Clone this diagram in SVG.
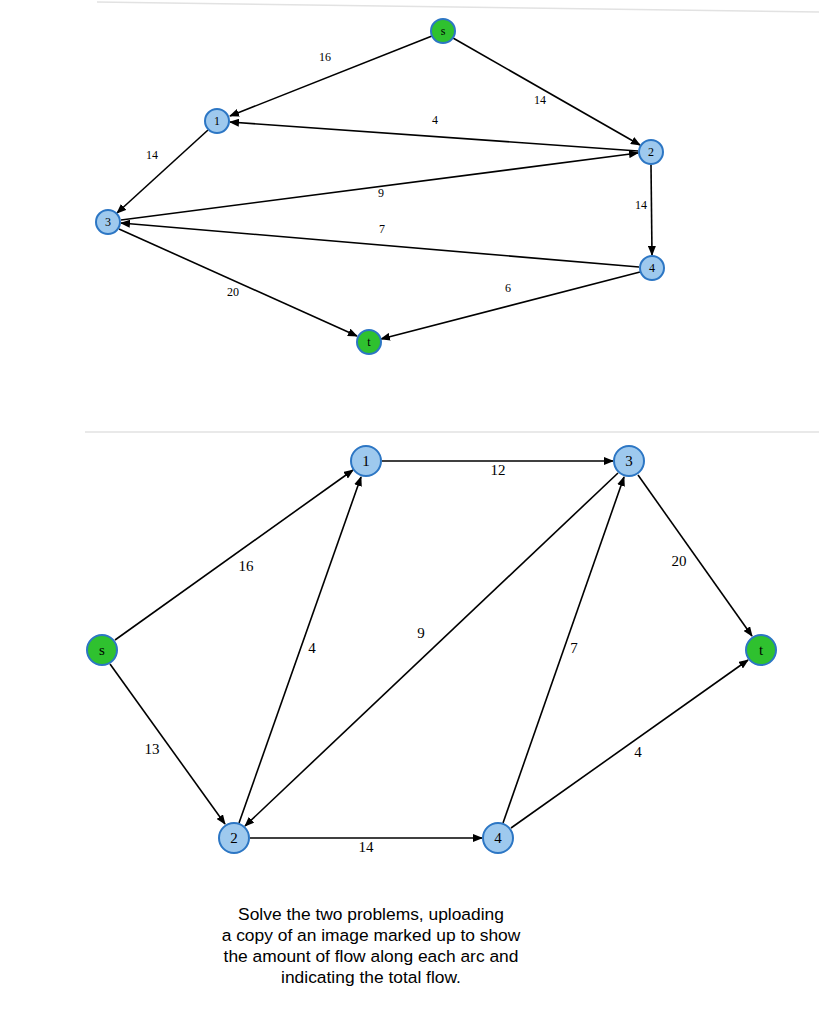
<svg xmlns="http://www.w3.org/2000/svg" width="819" height="1024" viewBox="0 0 819 1024">
<style>
.n{fill:#9ec9ee;stroke:#2c76c4;stroke-width:2}
.g{fill:#2fc12f;stroke:#2c76c4;stroke-width:2}
.e{stroke:#000;stroke-width:1.6;fill:none;marker-end:url(#a)}
.t1{font-family:"Liberation Serif",serif;font-size:12px;text-anchor:middle}
.t2{font-family:"Liberation Serif",serif;font-size:15px;text-anchor:middle}
.c{font-family:"Liberation Sans",sans-serif;font-size:17.4px;text-anchor:middle}
</style>
<defs><marker id="a" markerWidth="10" markerHeight="8" refX="9" refY="4" orient="auto" markerUnits="userSpaceOnUse"><path d="M0,0L10,4L0,8z" fill="#000"/></marker></defs>
<rect width="819" height="1024" fill="#fff"/>
<line x1="97" y1="2" x2="819" y2="12" stroke="#e2e2e2" stroke-width="1.5"/>
<line x1="85" y1="432" x2="819" y2="432" stroke="#e2e2e2" stroke-width="1.5"/>
<g id="connectors">
<line class="e" x1="432" y1="36" x2="230" y2="116"/>
<line class="e" x1="453" y1="38" x2="640" y2="145"/>
<line class="e" x1="638" y1="151" x2="230" y2="122"/>
<line class="e" x1="208" y1="130" x2="117" y2="213"/>
<line class="e" x1="121" y1="220" x2="638" y2="153"/>
<line class="e" x1="651" y1="165" x2="652" y2="255"/>
<line class="e" x1="639" y1="267" x2="121" y2="223"/>
<line class="e" x1="119" y1="229" x2="357" y2="336"/>
<line class="e" x1="640" y1="272" x2="381" y2="339"/>
<line class="e" x1="115" y1="640" x2="353" y2="470"/>
<line class="e" x1="110" y1="664" x2="225" y2="824"/>
<line class="e" x1="239" y1="823" x2="361" y2="477"/>
<line class="e" x1="382" y1="461" x2="613" y2="461"/>
<line class="e" x1="618" y1="473" x2="245" y2="826"/>
<line class="e" x1="250" y1="838" x2="482" y2="838"/>
<line class="e" x1="503" y1="823" x2="624" y2="477"/>
<line class="e" x1="638" y1="475" x2="752" y2="636"/>
<line class="e" x1="511" y1="828" x2="748" y2="660"/>
</g>
<g class="t1">
<text x="325" y="61">16</text><text x="540" y="104">14</text><text x="435" y="124">4</text>
<text x="152" y="159">14</text><text x="381" y="197">9</text><text x="641" y="209">14</text>
<text x="382" y="233">7</text><text x="233" y="296">20</text><text x="508" y="292">6</text>
</g>
<g class="t2">
<text x="498" y="475">12</text><text x="246" y="571">16</text><text x="679" y="566">20</text>
<text x="421" y="638">9</text><text x="312" y="653">4</text><text x="574" y="653">7</text>
<text x="152" y="754">13</text><text x="638" y="757">4</text><text x="366" y="852">14</text>
</g>
<g id="top-s"><circle class="g" cx="443" cy="31" r="12"/><text class="t1" x="443" y="35">s</text></g>
<g id="top-1"><circle class="n" cx="217" cy="121" r="12"/><text class="t1" x="217" y="125">1</text></g>
<g id="top-2"><circle class="n" cx="651" cy="152" r="12"/><text class="t1" x="651" y="156">2</text></g>
<g id="top-3"><circle class="n" cx="108" cy="222" r="12"/><text class="t1" x="108" y="226">3</text></g>
<g id="top-4"><circle class="n" cx="652" cy="268" r="12"/><text class="t1" x="652" y="272">4</text></g>
<g id="top-t"><circle class="g" cx="369" cy="342" r="12"/><text class="t1" x="369" y="346">t</text></g>
<g id="bot-s"><circle class="g" cx="102" cy="650" r="15"/><text class="t2" x="102" y="655">s</text></g>
<g id="bot-1"><circle class="n" cx="366" cy="461" r="15"/><text class="t2" x="366" y="466">1</text></g>
<g id="bot-3"><circle class="n" cx="629" cy="461" r="15"/><text class="t2" x="629" y="466">3</text></g>
<g id="bot-t"><circle class="g" cx="761" cy="650" r="15"/><text class="t2" x="761" y="655">t</text></g>
<g id="bot-2"><circle class="n" cx="234" cy="838" r="15"/><text class="t2" x="234" y="843">2</text></g>
<g id="bot-4"><circle class="n" cx="498" cy="838" r="15"/><text class="t2" x="498" y="843">4</text></g>
<g class="c">
<text x="371" y="920">Solve the two problems, uploading</text>
<text x="371" y="941">a copy of an image marked up to show</text>
<text x="371" y="962">the amount of flow along each arc and</text>
<text x="371" y="983">indicating the total flow.</text>
</g>
</svg>
